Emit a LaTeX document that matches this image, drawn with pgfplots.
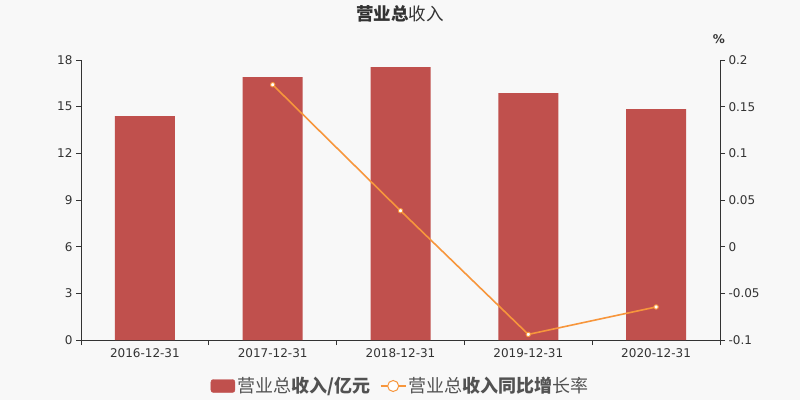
\documentclass[border=0pt]{standalone}
\usepackage{pgfplots}
\pgfplotsset{compat=1.18}
\usepackage{fontspec}
\setmainfont{DejaVu Sans}
\newfontfamily\cjk{Noto Sans CJK SC}
\definecolor{bgc}{HTML}{F8F8F8}
\definecolor{barc}{HTML}{C0504D}
\definecolor{linec}{HTML}{F7963C}
\definecolor{txt}{HTML}{333333}

\begin{document}
\begin{tikzpicture}
\fill[bgc] (0pt,0pt) rectangle (800pt,400pt);
% title and unit
\node[txt, font=\fontsize{17.5}{20}\selectfont\cjk] at (400pt,386pt) {\bfseries 营业总\mdseries 收入};
\node[txt, font=\fontsize{12}{14}\selectfont\bfseries] at (719pt,361pt) {\%};

% left axis: revenue bars
\begin{axis}[
    at={(81pt,60pt)}, anchor=south west,
    scale only axis, width=639pt, height=280pt,
    xmin=-0.5, xmax=4.5, ymin=0, ymax=18,
    axis x line*=bottom, axis y line*=left,
    axis line style={txt, line width=0.8pt},
    tick style={txt, line width=0.8pt},
    tick align=outside, major tick length=5pt,
    xtick={-0.5,0.5,...,4.5},
    xticklabels={2016-12-31,2017-12-31,2018-12-31,2019-12-31,2020-12-31},
    x tick label as interval,
    ytick={0,3,6,9,12,15,18},
    yticklabels={0,3,6,9,12,15,18},
    ticklabel style={font=\fontsize{12}{14}\selectfont, text=txt},
    ybar, bar width=60pt,
  ]
  \addplot[fill=barc, draw=none] coordinates {
    (0,14.40) (1,16.90) (2,17.55) (3,15.87) (4,14.85)
  };
\end{axis}

% right axis: growth rate line
\begin{axis}[
    at={(81pt,60pt)}, anchor=south west,
    scale only axis, width=639pt, height=280pt,
    xmin=-0.5, xmax=4.5, ymin=-0.1, ymax=0.2,
    axis x line=none, axis y line*=right,
    axis line style={txt, line width=0.8pt},
    tick style={txt, line width=0.8pt},
    tick align=outside, major tick length=5pt,
    ytick={-0.1,-0.05,0,0.05,0.1,0.15,0.2},
    yticklabels={-0.1,-0.05,0,0.05,0.1,0.15,0.2},
    ticklabel style={font=\fontsize{12}{14}\selectfont, text=txt},
    clip=false,
    legend columns=2,
    legend style={at={(rel axis cs:0.5,0)}, anchor=center, yshift=-46pt,
      draw=none, fill=none, font=\fontsize{18}{20}\selectfont\cjk, text=txt!85,
      /tikz/every even column/.append style={column sep=8pt}},
  ]
  \addlegendimage{legend image code/.code={
      \fill[barc, rounded corners=2.5pt] (0pt,-6.5pt) rectangle (24pt,6.5pt);}}
  \addlegendentry{营业总{\bfseries 收入/亿元}}
  \addlegendimage{legend image code/.code={
      \draw[linec, line width=1.2pt] (0pt,0pt) -- (25pt,0pt);
      \draw[linec, fill=white, line width=1pt] (12.5pt,0pt) circle (5.5pt);}}
  \addlegendentry{营业总{\bfseries 收入同比增}长率}
  \addplot[forget plot, linec, line width=1.6pt, mark=*, mark size=2.2pt,
    mark options={fill=white, draw=linec, line width=0.9pt}] coordinates {
    (1,0.1735) (2,0.0385) (3,-0.0940) (4,-0.0646)
  };
\end{axis}
\end{tikzpicture}
\end{document}
